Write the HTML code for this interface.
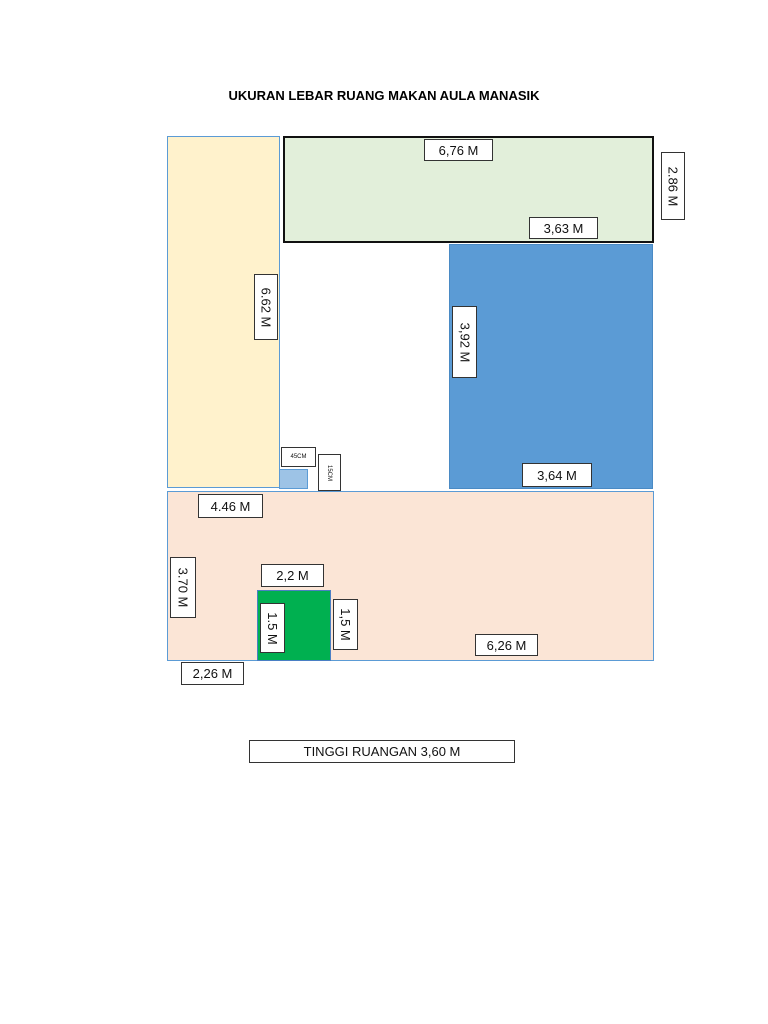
<!DOCTYPE html>
<html><head><meta charset="utf-8"><style>
body{margin:0;width:768px;height:1024px;background:#fff;position:relative;overflow:hidden;font-family:"Liberation Sans",sans-serif}
div{position:absolute;box-sizing:border-box}
.l{background:#fff;border:1px solid #333;font-size:13px;color:#111;display:flex;align-items:center;justify-content:center;white-space:nowrap}
.r span{transform:rotate(90deg);display:block}
</style></head><body>
<div style="left:0;top:88px;width:768px;text-align:center;font-weight:bold;font-size:13px;">UKURAN LEBAR RUANG MAKAN AULA MANASIK</div>
<div style="left:167px;top:136px;width:113px;height:352px;background:#fff2cc;border:1.5px solid #5b9bd5"></div>
<div style="left:283px;top:136px;width:371px;height:107px;background:#e2efda;border:2px solid #111"></div>
<div style="left:449px;top:244px;width:204px;height:245px;background:#5b9bd5;border:1px solid #4a8ac4"></div>
<div style="left:167px;top:491px;width:487px;height:170px;background:#fbe5d6;border:1.5px solid #5b9bd5"></div>
<div style="left:279px;top:469px;width:29px;height:20px;background:#9dc3e6;border:1px solid #5b9bd5"></div>
<div style="left:257px;top:590px;width:74px;height:71px;background:#00b050;border:1.5px solid #4a7fc4"></div>

<div class="l" style="left:424px;top:139px;width:69px;height:22px">6,76 M</div>
<div class="l" style="left:529px;top:217px;width:69px;height:22px">3,63 M</div>
<div class="l r" style="left:661px;top:152px;width:24px;height:68px"><span>2.86 M</span></div>
<div class="l r" style="left:254px;top:274px;width:24px;height:66px"><span>6.62 M</span></div>
<div class="l r" style="left:452px;top:306px;width:25px;height:72px"><span>3,92 M</span></div>
<div class="l" style="left:522px;top:463px;width:70px;height:24px">3,64 M</div>
<div class="l" style="left:281px;top:447px;width:35px;height:20px;font-size:6px">45CM</div>
<div class="l r" style="left:318px;top:454px;width:23px;height:37px;font-size:6px"><span>15CM</span></div>
<div class="l" style="left:198px;top:494px;width:65px;height:24px">4.46 M</div>
<div class="l r" style="left:170px;top:557px;width:26px;height:61px"><span>3.70 M</span></div>
<div class="l" style="left:261px;top:564px;width:63px;height:23px">2,2 M</div>
<div class="l r" style="left:260px;top:603px;width:25px;height:50px"><span>1.5 M</span></div>
<div class="l r" style="left:333px;top:599px;width:25px;height:51px"><span>1,5 M</span></div>
<div class="l" style="left:475px;top:634px;width:63px;height:22px">6,26 M</div>
<div class="l" style="left:181px;top:662px;width:63px;height:23px">2,26 M</div>
<div class="l" style="left:249px;top:740px;width:266px;height:23px">TINGGI RUANGAN 3,60 M</div>
</body></html>
